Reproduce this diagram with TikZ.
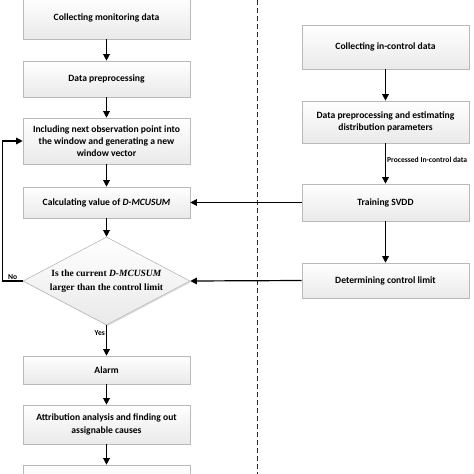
\documentclass[tikz,border=0pt]{standalone}
\usepackage{fontspec}
\setmainfont{Carlito}
\newfontfamily\timesfont{Liberation Serif}
\usepackage{tikz}
\usetikzlibrary{shapes.geometric}
\usetikzlibrary{arrows.meta}
\usetikzlibrary{shadows}
\tikzset{
  box/.style={shape=rectangle, draw=gray!55, line width=0.6pt, top color=white, bottom color=gray!17,
    drop shadow={shadow xshift=1.2pt, shadow yshift=-1.2pt, opacity=0.25},
    minimum width=167pt, inner sep=2pt, align=center, font=\fontsize{9.6}{12.3}\selectfont\bfseries},
  decision/.style={shape=diamond, draw=gray!55, line width=0.6pt, top color=white, bottom color=gray!17,
    drop shadow={shadow xshift=1.2pt, shadow yshift=-1.2pt, opacity=0.25},
    minimum width=167pt, minimum height=88pt, inner sep=0pt},
  flow/.style={line width=1.2pt, -{Triangle[length=6.5pt,width=6.5pt]}},
  lbl/.style={font=\fontsize{7.6}{8}\selectfont\bfseries, inner sep=1pt}
}
\newcommand{\flowbox}[5]{\node[box, minimum height=#4pt] (#1) at ( #2 , #3 ) {#5};}

\begin{document}
\begin{tikzpicture}[x=1pt, y=-1pt]
\useasboundingbox (0,0) rectangle (474,474);
% dividing line
\coordinate (septop) at (257,0);
\coordinate (sepbot) at (257,474);
\draw[gray!30!black, line width=0.8pt, dash pattern=on 5pt off 3pt] (septop) -- (sepbot);
% monitoring side
\flowbox{collect}{106.5}{18}{42}{Collecting monitoring data}
\flowbox{prep}{106.5}{79}{36}{Data preprocessing}
\flowbox{incl}{106.5}{141}{46}{Including next observation point into\\the window and generating a new\\window vector}
\flowbox{calc}{106.5}{202.5}{31}{Calculating value of \textit{D-MCUSUM}}
\node[decision] (dec) at (106.5,281) {};
\node[font=\timesfont\fontsize{9.5}{14}\selectfont\bfseries, align=center] (dectxt) at (dec.center) {Is the current \textit{D-MCUSUM}\\larger than the control limit};
\flowbox{alarm}{106.5}{370}{28}{Alarm}
\flowbox{attr}{106.5}{424.5}{39}{Attribution analysis and finding out\\assignable causes}
\flowbox{last}{106.5}{486}{42}{}
% training side
\flowbox{incoll}{385.5}{47}{44}{Collecting in-control data}
\flowbox{inprep}{385.5}{122}{42}{Data preprocessing and estimating\\distribution parameters}
\flowbox{svdd}{385.5}{202.5}{37}{Training SVDD}
\flowbox{limit}{385.5}{280.5}{35}{Determining control limit}
% connectors
\draw[flow] (collect) -- (prep);
\draw[flow] (prep) -- (incl);
\draw[flow] (incl) -- (calc);
\draw[flow] (calc) -- (dec);
\draw[flow] (dec.south) -- node[lbl, left, pos=0.26] {Yes} (alarm.north);
\draw[flow] (alarm) -- (attr);
\draw[flow] (attr) -- (last);
\draw[flow] (dec.west) -- node[lbl, above, pos=0.5] {No} ++(-20,0) |- (incl.west);
\draw[flow] (incoll) -- (inprep);
\draw[flow] (inprep) -- node[lbl, right, pos=0.41] {Processed In-control data} (svdd);
\draw[flow] (svdd) -- (limit);
\draw[flow] (svdd.west) -- (calc.east);
\draw[flow] (limit.west) -- (dec.east);
\end{tikzpicture}
\end{document}
